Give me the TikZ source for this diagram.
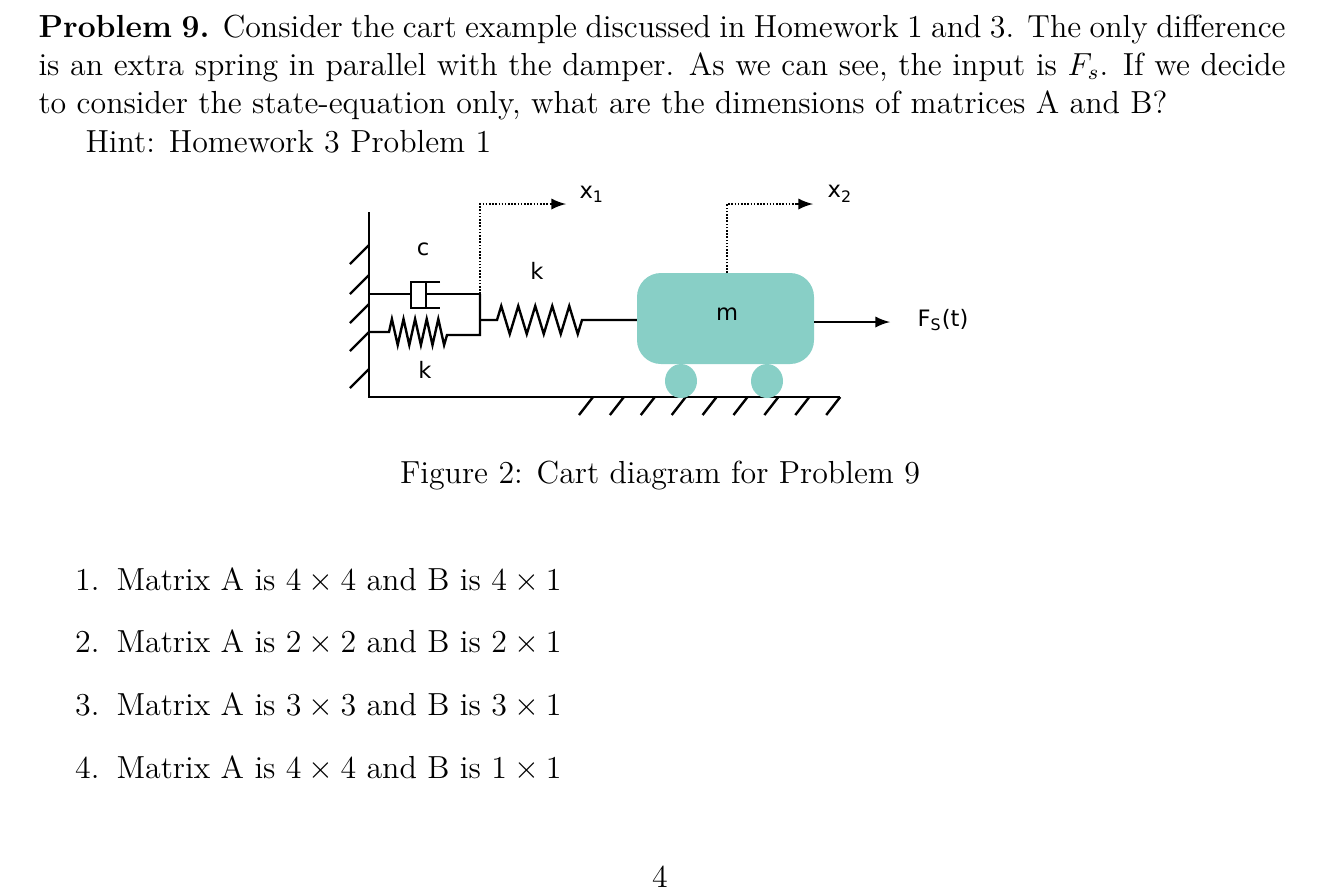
\documentclass[tikz,border=0pt]{standalone}
\usepackage{fontspec}
\newfontfamily\dv{DejaVu Sans}
\definecolor{cart}{HTML}{88CFC6}
\begin{document}
\begin{tikzpicture}[x=0.376pt,y=-0.376pt,
  txt/.style={anchor=base west,inner sep=0pt,font=\fontsize{12}{14.5}\selectfont},
  lab/.style={inner sep=0pt,font=\dv\fontsize{8.5}{10}\selectfont},
  ln/.style={line width=0.9pt},
  dot/.style={line width=0.9pt,dash pattern=on 0.6pt off 0.6pt},
  arr/.style={-latex}]
\useasboundingbox (0,0) rectangle (1330,892);
% text
\node[txt] (t1) at (38,37) {\makebox[468.9pt][s]{\textbf{Problem 9.} Consider the cart example discussed in Homework 1 and 3. The only difference}};
\node[txt] (t2) at (38,75) {\makebox[468.9pt][s]{is an extra spring in parallel with the damper. As we can see, the input is $F_s$. If we decide}};
\node[txt] (t3) at (38,113) {to consider the state-equation only, what are the dimensions of matrices A and B?};
\node[txt] (t4) at (85,152) {Hint: Homework 3 Problem 1};
\node[txt,anchor=base] (cap) at (660,483) {Figure 2: Cart diagram for Problem 9};
\foreach \i/\a/\b/\c/\d in {1/4/4/4/1,2/2/2/2/1,3/3/3/3/1,4/4/4/1/1}{
  \node[txt,anchor=base east] (n\i) at (100,{590+62.7*(\i-1)}) {\i.};
  \node[txt] (it\i) at (116,{590+62.7*(\i-1)}) {Matrix A is $\a\times\b$ and B is $\c\times\d$};
}
\node[txt,anchor=base] (pg) at (660,887) {4};
% diagram
\coordinate (wt) at (369,212); \coordinate (wb) at (369,397);
\coordinate (ge) at (840,397);
\draw[ln] (wt) -- (wb) -- (ge);
\foreach \y in {245,275,304,332,369} \draw[ln] (369,\y) -- (350,\y+19);
\foreach \i in {0,...,8} \draw[ln] ({593+30.9*\i},397) -- ({579+30.9*\i},415);
% damper
\coordinate (J) at (480,294);
\draw[ln] (369,294) -- (411,294);
\draw[ln] (440,282) -- (411,282) -- (411,308) -- (440,308);
\draw[ln] (426,282) -- (426,308);
\draw[ln] (426,294) -- (J);
% lower spring
\draw[ln] (369,332) -- (389,332)
  \foreach \i in {0,...,4}{ -- ({389+11.6*\i+2.9},319) -- ({389+11.6*\i+8.7},345) } -- (447,335) -- (480,335) -- (J);
% upper spring
\coordinate (J2) at (480,320);
\draw[ln] (J2) -- (497,320)
  \foreach \i in {0,...,4}{ -- ({497+17*\i+4.25},306) -- ({497+17*\i+12.75},334) } -- (582,320) -- (637,320);
% cart
\fill[cart,rounded corners=9pt] (637,273) rectangle (814,364);
\fill[cart] (681,381) ellipse (16 and 17);
\fill[cart] (767,381) ellipse (16 and 17);
\node[lab] (m) at (727,314) {m};
\draw[ln,arr] (814,322) -- (890,322);
\node[lab,anchor=west] (F) at (917,320) {F\textsubscript{S}(t)};
% x1 x2
\draw[dot] (J) -- (480,204) -- (552,204);
\draw[ln,arr] (550,204) -- (566,204);
\node[lab] (x1) at (592,194) {x\textsubscript{1}};
\draw[dot] (727,273) -- (727,204) -- (799,204);
\draw[ln,arr] (797,204) -- (813,204);
\node[lab] (x2) at (840,194) {x\textsubscript{2}};
\node[lab] (c) at (423,249) {c};
\node[lab] (k1) at (537,271) {k};
\node[lab] (k2) at (425,370) {k};
\end{tikzpicture}
\end{document}
